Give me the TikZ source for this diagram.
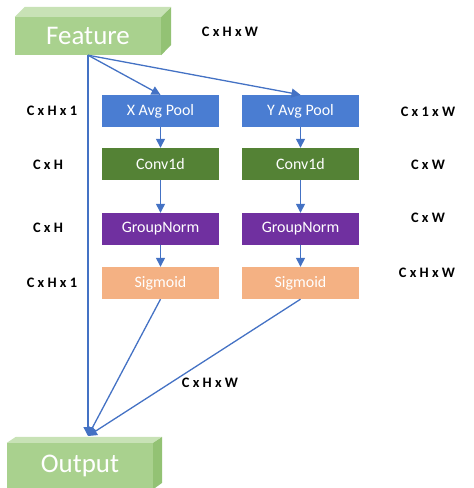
\documentclass[tikz,border=0pt]{standalone}
\usepackage{fontspec}
\setmainfont{Carlito}
\usetikzlibrary{arrows.meta}
\definecolor{lnblue}{HTML}{4472C4}
\definecolor{poolblue}{HTML}{4A7DD2}
\definecolor{convgreen}{HTML}{548235}
\definecolor{gnpurple}{HTML}{7030A0}
\definecolor{sigorange}{HTML}{F4B183}
\definecolor{boxfront}{HTML}{A9D18E}
\definecolor{boxtop}{HTML}{C8E2B6}
\definecolor{boxside}{HTML}{93C274}
\tikzset{
  blk/.style={draw=none, minimum width=117bp, minimum height=32bp, inner sep=0pt, text=white, font=\fontsize{16}{18}\selectfont},
  front3d/.style={fill=boxfront, draw=none, inner sep=0pt, text=white, font=\fontsize{27}{30}\selectfont},
  dim/.style={font=\bfseries\fontsize{14.5}{16}\selectfont, text=black, inner sep=0pt},
  conn/.style={draw=lnblue, line width=1.3bp, -{Triangle[length=9bp,width=9bp]}}
}
\begin{document}
\begin{tikzpicture}[x=1bp,y=-1bp]
\useasboundingbox (0,0) rectangle (474,488);
% Feature 3D box
\node[front3d, minimum width=146bp, minimum height=38bp] (feat) at (88,36) {Feature};
\fill[boxtop] (feat.north west) -- ++(10,-10) -- ++(146,0) -- (feat.north east) -- cycle;
\fill[boxside] (feat.north east) -- ++(10,-10) -- ++(0,38) -- (feat.south east) -- cycle;
% Output 3D box
\node[front3d, minimum width=146bp, minimum height=46bp] (outp) at (80,466) {Output};
\fill[boxtop] (outp.north west) -- ++(9,-6) -- ++(146,0) -- (outp.north east) -- cycle;
\fill[boxside] (outp.north east) -- ++(9,-6) -- ++(0,46) -- (outp.south east) -- cycle;
\coordinate (outin) at (88,436);
% blocks
\node[blk, fill=poolblue] (xp) at (160.5,111) {X Avg Pool};
\node[blk, fill=poolblue] (yp) at (300.5,111) {Y Avg Pool};
\node[blk, fill=convgreen] (xc) at (160.5,164) {Conv1d};
\node[blk, fill=convgreen] (yc) at (300.5,164) {Conv1d};
\node[blk, fill=gnpurple] (xg) at (160.5,229) {GroupNorm};
\node[blk, fill=gnpurple] (yg) at (300.5,229) {GroupNorm};
\node[blk, fill=sigorange] (xs) at (160.5,283) {Sigmoid};
\node[blk, fill=sigorange] (ys) at (300.5,283) {Sigmoid};
% connectors
\draw[conn] (feat.south) -- (xp.north);
\draw[conn] (feat.south) -- (yp.north);
\draw[conn] (feat.south) -- (outin);
\draw[conn] (xp) -- (xc);
\draw[conn] (yp) -- (yc);
\draw[conn] (xc) -- (xg);
\draw[conn] (yc) -- (yg);
\draw[conn] (xg) -- (xs);
\draw[conn] (yg) -- (ys);
\draw[conn] (xs.south) -- (outin);
\draw[conn] (ys.south) -- (outin);
% dimension labels
\node[dim] (d0) at (230,32) {C x H x W};
\node[dim] (l1) at (52,111) {C x H x 1};
\node[dim] (l2) at (48,165) {C x H};
\node[dim] (l3) at (48,228) {C x H};
\node[dim] (l4) at (52,283) {C x H x 1};
\node[dim] (r1) at (428,112) {C x 1 x W};
\node[dim] (r2) at (428,165) {C x W};
\node[dim] (r3) at (428,218) {C x W};
\node[dim] (r4) at (427,273) {C x H x W};
\node[dim] (d5) at (210,383) {C x H x W};
\end{tikzpicture}
\end{document}
